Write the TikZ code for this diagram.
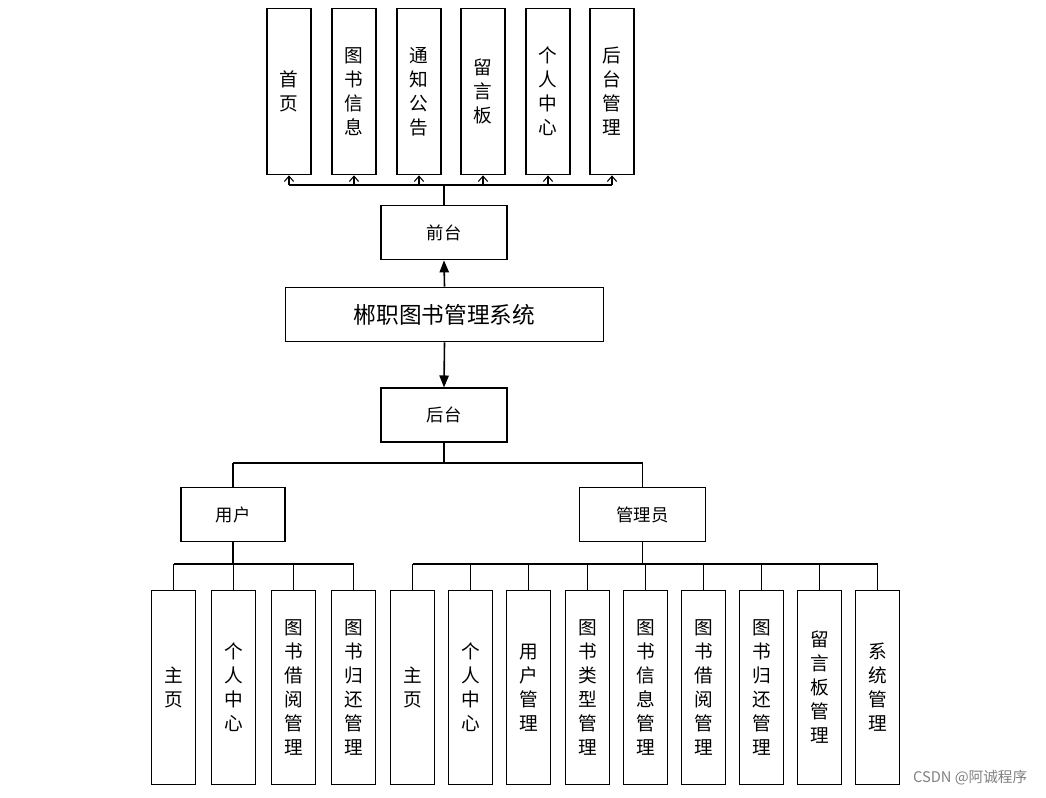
\documentclass[tikz,border=0pt]{standalone}
\usepackage{fontspec}
\setmainfont{Noto Sans CJK SC}
\usetikzlibrary{arrows.meta}
\begin{document}
\begin{tikzpicture}[x=0.75pt,y=-0.75pt,
  box/.style={draw,thick,inner sep=0pt,align=center,font=\fontsize{13}{16}\selectfont},
  vbox/.style={draw,thick,inner sep=0pt,align=center,font=\fontsize{14}{18}\selectfont},
  ln/.style={draw,thick},
  sa/.style={thick,-{Straight Barb[length=4pt,width=7pt]}},
  ba/.style={very thick,-{Triangle[length=9pt,width=7pt]}}]
\useasboundingbox (0,0) rectangle (1046,797);
\newcommand{\vb}[5]{\node[vbox,minimum width=44*0.75pt,minimum height=#3*0.75pt] (#1) at (#2,#4) {#5};}
% top
\foreach \n/\x/\t in {t1/289/首\\页, t2/354/图\\书\\信\\息, t3/419/通\\知\\公\\告, t4/483/留\\言\\板, t5/548/个\\人\\中\\心, t6/612/后\\台\\管\\理}
  {\node[vbox,minimum width=33pt,minimum height=125pt] (\n) at (\x,91.5) {\t};}
\node[box,minimum width=94.5pt,minimum height=41pt] (qt) at (444,232.5) {前台};
\node[box,minimum width=239pt,minimum height=41pt,font=\fontsize{17}{20}\selectfont] (main) at (444.5,314.5) {郴职图书管理系统};
\node[box,minimum width=94.5pt,minimum height=40.5pt] (ht) at (444,415) {后台};
\draw[ba] (main.north) -- (qt.south);
\draw[ba] (main.south) -- (ht.south|-ht.north);
\coordinate (tb) at (444,185);
\draw[thick] (qt.north) -- (tb);
\draw[thick] (t1.south|-tb) -- (t6.south|-tb);
\foreach \n in {t1,t2,t3,t4,t5,t6} \draw[sa] (\n.south|-tb) -- (\n.south);
% second level
\node[box,minimum width=78pt,minimum height=41pt] (yh) at (233,514.5) {用户};
\node[box,minimum width=94pt,minimum height=41pt] (gly) at (642.5,514.5) {管理员};
\coordinate (hb) at (444,463);
\draw[thick] (ht.south) -- (hb);
\draw[thick] (yh.north|-hb) -- (gly.north|-hb);
\draw[thick] (yh.north|-hb) -- (yh.north);
\draw[thick] (gly.north|-hb) -- (gly.north);
% bottom
\foreach \n/\x/\t in {a1/173.5/主\\页, a2/233.5/个\\人\\中\\心, a3/293.5/图\\书\\借\\阅\\管\\理, a4/353.5/图\\书\\归\\还\\管\\理,
  b1/412.5/主\\页, b2/470.5/个\\人\\中\\心, b3/528.5/用\\户\\管\\理, b4/587.5/图\\书\\类\\型\\管\\理, b5/645.5/图\\书\\信\\息\\管\\理,
  b6/703.5/图\\书\\借\\阅\\管\\理, b7/761.5/图\\书\\归\\还\\管\\理, b8/819.5/留\\言\\板\\管\\理, b9/877.5/系\\统\\管\\理}
  {\node[vbox,minimum width=33pt,minimum height=146pt] (\n) at (\x,687.5) {\t};}
\coordinate (ub) at (233,564);
\draw[thick] (yh.south) -- (ub);
\draw[thick] (a1.north|-ub) -- (a4.north|-ub);
\foreach \n in {a1,a2,a3,a4} \draw[thick] (\n.north|-ub) -- (\n.north);
\coordinate (gb) at (642.5,564);
\draw[thick] (gly.south) -- (gb);
\draw[thick] (b1.north|-gb) -- (b9.north|-gb);
\foreach \n in {b1,b2,b3,b4,b5,b6,b7,b8,b9} \draw[thick] (\n.north|-gb) -- (\n.north);
\node[text=gray,font=\fontsize{11}{13}\selectfont,anchor=east] (wm) at (1032,778) {CSDN @阿诚程序};
\end{tikzpicture}
\end{document}
